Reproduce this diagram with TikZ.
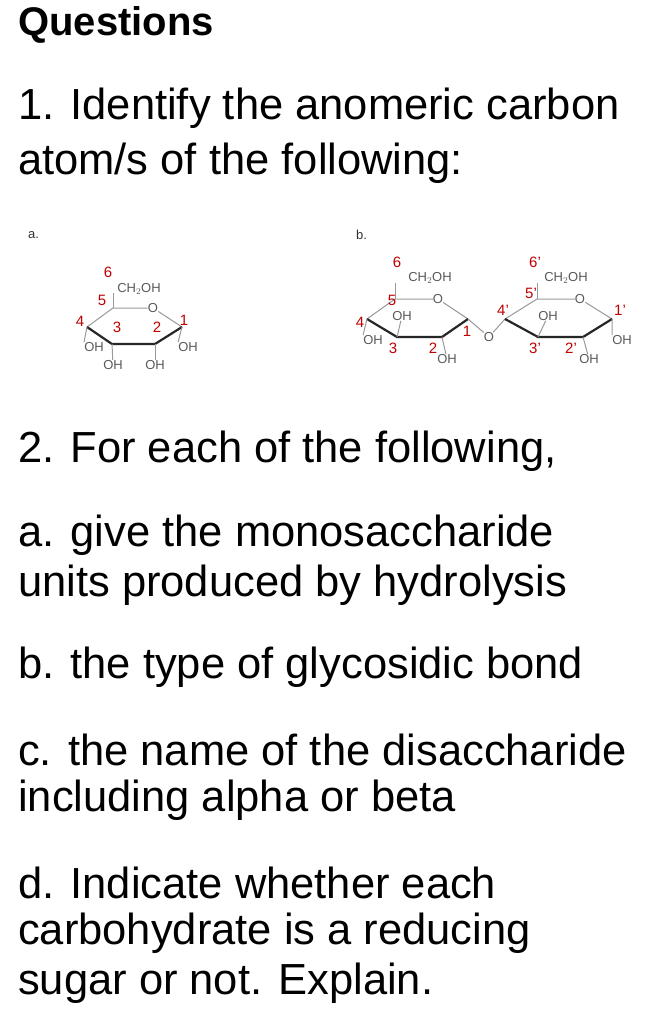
\documentclass[tikz,border=0pt]{standalone}
\usepackage{fontspec}
\setmainfont{Liberation Sans}
\begin{document}
\begin{tikzpicture}[x=1pt,y=-1pt,
 body/.style={anchor=west,inner sep=0pt,font=\fontsize{43.5}{48}\selectfont},
 chem/.style={inner sep=0pt,font=\fontsize{13}{13}\selectfont,text=gray!70!black},
 num/.style={inner sep=0pt,font=\fontsize{15}{15}\selectfont,text=red!75!black},
 bond/.style={gray!80,line width=1pt},
 thick bond/.style={black!85,line width=2.2pt}]
\useasboundingbox (0,0) rectangle (664,1024);
\node[body,font=\bfseries\fontsize{40}{44}\selectfont] (t) at (18,25) {Questions};
\node[body] (q1a) at (18,108) {1. Identify the anomeric carbon};
\node[body] (q1b) at (18,163) {atom/s of the following:};
\node[chem,anchor=west,font=\fontsize{13}{13}\selectfont,text=black!80] (la) at (28,235) {a.};
\node[chem,anchor=west,font=\fontsize{13}{13}\selectfont,text=black!80] (lb) at (356,235) {b.};
% structure a
\coordinate (a5) at (113,308); \coordinate (a1) at (182,327);
\coordinate (a2) at (155,344); \coordinate (a3) at (112,344); \coordinate (a4) at (87,327);
\node[chem] (ao) at (153,308) {O};
\draw[bond] (a4)--(a5)--(ao)--(a1);
\draw[thick bond,line join=round] (a4)--(a3)--(a2)--(a1);
\node[chem] (ach) at (139,289) {CH$_2$OH};
\draw[bond] (a5)--(113,293);
\node[chem] (aoh4) at (94,347) {OH};
\node[chem] (aoh3) at (113,365) {OH};
\node[chem] (aoh2) at (155,365) {OH};
\node[chem] (aoh1) at (188,347) {OH};
\draw[bond] (a4)--(aoh4.north west);
\draw[bond] (a3)--(aoh3);
\draw[bond] (a2)--(aoh2);
\draw[bond] (a1)--(aoh1.north west);
\node[num] at (108,272) {6};\node[num] at (102,300) {5};\node[num] at (80,321) {4};
\node[num] at (117,327) {3};\node[num] at (157,327) {2};\node[num] at (184,320) {1};
% structure b left
\coordinate (b5) at (395,299); \coordinate (b1) at (468,319);
\coordinate (b2) at (442,337); \coordinate (b3) at (397,337); \coordinate (b4) at (367,319);
\node[chem] (bo) at (438,299) {O};
\draw[bond] (b4)--(b5)--(bo)--(b1);
\draw[thick bond,line join=round] (b4)--(b3)--(b2)--(b1);
\node[chem] (bch) at (430,278) {CH$_2$OH};
\draw[bond] (b5)--(395,283);
\node[chem] (bohu) at (402,316) {OH};
\draw[bond] (b3)--(bohu);
\node[chem] (boh4) at (373,340) {OH};
\draw[bond] (b4)--(boh4.north west);
\node[chem] (boh2) at (447,359) {OH};
\draw[bond] (b2)--(boh2);
\node[chem] (og) at (489,337) {O};
% right
\coordinate (c4) at (505,319); \coordinate (c5) at (537,299); \coordinate (c1) at (612,319);
\coordinate (c2) at (583,337); \coordinate (c3) at (538,337);
\node[chem] (co) at (580,299) {O};
\draw[bond] (b1)--(og)--(c4);
\draw[bond] (c4)--(c5)--(co)--(c1);
\draw[thick bond,line join=round] (c4)--(c3)--(c2)--(c1);
\node[chem] (cch) at (566,278) {CH$_2$OH};
\draw[bond] (c5)--(537,283);
\node[chem] (cohu) at (548,316) {OH};
\draw[bond] (c3)--(cohu);
\node[chem] (coh2) at (589,359) {OH};
\draw[bond] (c2)--(coh2);
\node[chem] (coh1) at (622,340) {OH};
\draw[bond] (c1)--(coh1.north west);
\node[num] at (397,262) {6};\node[num] at (392,300) {5};\node[num] at (360,322) {4};
\node[num] at (393,348) {3};\node[num] at (433,348) {2};\node[num] at (467,331) {1};
\node[num] at (535,262) {6'};\node[num] at (531,293) {5'};\node[num] at (503,310) {4'};
\node[num] at (535,348) {3'};\node[num] at (571,348) {2'};\node[num] at (620,310) {1'};
% question 2
\node[body] (q2) at (18,451) {2. For each of the following,};
\node[body] (qa1) at (18,535) {a. give the monosaccharide};
\node[body] (qa2) at (18,585) {units produced by hydrolysis};
\node[body] (qb) at (18,667) {b. the type of glycosidic bond};
\node[body] (qc1) at (18,750) {c. the name of the disaccharide};
\node[body] (qc2) at (18,800) {including alpha or beta};
\node[body] (qd1) at (18,883) {d. Indicate whether each};
\node[body] (qd2) at (18,933) {carbohydrate is a reducing};
\node[body] (qd3) at (18,983) {sugar or not. Explain.};
\end{tikzpicture}
\end{document}
